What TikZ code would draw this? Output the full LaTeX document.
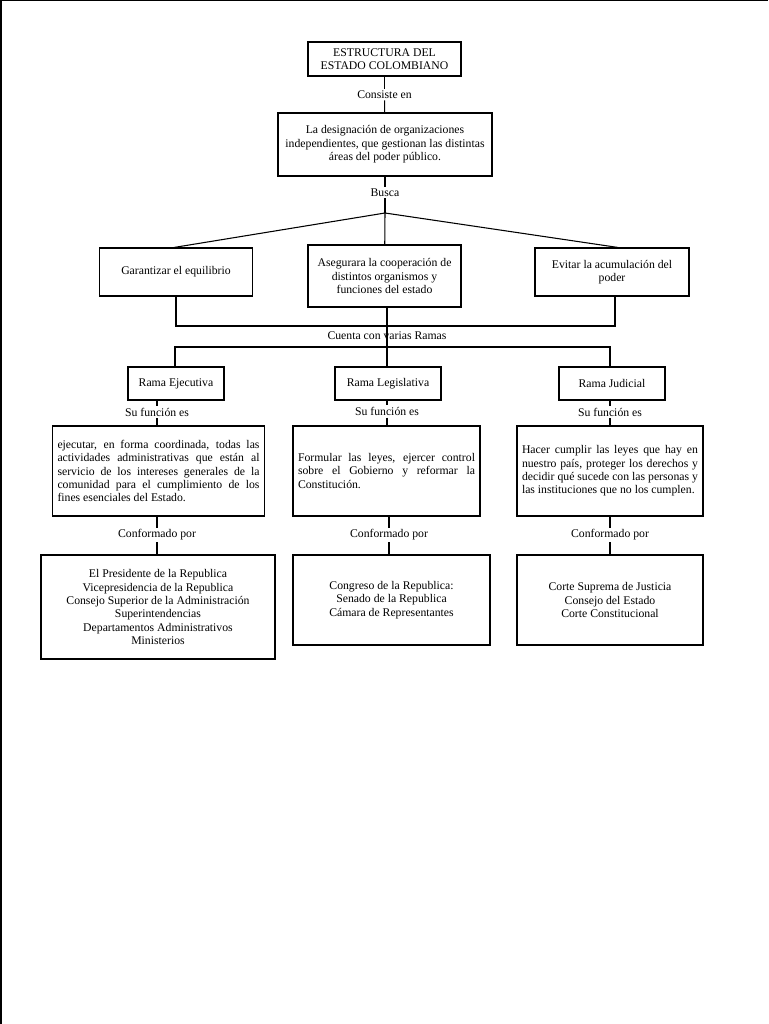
\documentclass[tikz,border=0pt]{standalone}
\usepackage{fontspec}
\setmainfont{Liberation Serif}
\hyphenpenalty=10000
\exhyphenpenalty=10000
\begin{document}
\begin{tikzpicture}[x=0.75pt,y=-0.75pt,line width=0.8pt,
    every node/.style={font=\fontsize{8.8}{10}\selectfont},
    caja/.style={draw,line width=0.8pt,align=center,inner sep=2pt},
    texto/.style={draw,line width=0.8pt,align=justify,inner xsep=3.75pt,minimum height=67.5pt},
    etiq/.style={inner sep=1pt}]
      \useasboundingbox (0,0) rectangle (768,1024);
      \draw[line width=2.25pt] (0,1024) -- (0,0) -- (768,0);
      \node[caja,minimum width=114.75pt,minimum height=25.5pt] (est) at (384.5,59)
        {ESTRUCTURA DEL\\ ESTADO COLOMBIANO};
      \node[etiq] (consiste) at (384.5,94.5) {Consiste en};
      \node[caja,minimum width=160.5pt,minimum height=47.25pt] (desig) at (385,144.5)
        {La designación de organizaciones\\ independientes, que gestionan las distintas\\ áreas del poder público.};
      \node[etiq] (busca) at (385,192.5) {Busca};
      \coordinate (vertice) at (385,213);
      \node[caja,minimum width=115pt,minimum height=36pt] (equil) at (176,272)
        {Garantizar el equilibrio};
      \node[caja,minimum width=114.75pt,minimum height=46.5pt] (coop) at (384.5,276)
        {Asegurara la cooperación de\\ distintos organismos y\\ funciones del estado};
      \node[caja,minimum width=115.5pt,minimum height=36pt] (acum) at (612,272)
        {Evitar la acumulación del\\ poder};
      \coordinate (union) at (387,326);
      \node[etiq] (cuenta) at (387,336) {Cuenta con varias Ramas};
      \coordinate (reparto) at (387,347);
      \node[caja,minimum width=72pt,minimum height=24.75pt] (ejec) at (176,383.5) {Rama Ejecutiva};
      \node[caja,minimum width=79.5pt,minimum height=24.75pt] (legis) at (388,383.5) {Rama Legislativa};
      \node[caja,minimum width=79.5pt,minimum height=24.75pt] (judic) at (612,383.5) {Rama Judicial};
      \node[etiq] (sfe1) at (157,412) {Su función es};
      \node[etiq] (sfe2) at (387,411.5) {Su función es};
      \node[etiq] (sfe3) at (610,412) {Su función es};
      \node[texto,text width=151.5pt,inner xsep=4pt] (fejec) at (158.5,471)
        {ejecutar, en forma coordinada, todas las\linebreak
         actividades administrativas que están al\linebreak
         servicio de los intereses generales de la\linebreak
         comunidad para el cumplimiento de los\linebreak
         fines esenciales del Estado.};
      \node[texto,text width=132.75pt] (flegis) at (386.5,471)
        {Formular las leyes, ejercer control\linebreak
         sobre el Gobierno y reformar la\linebreak
         Constitución.};
      \node[texto,text width=132pt] (fjudic) at (610,471)
        {Hacer cumplir las leyes que hay en\linebreak
         nuestro país, proteger los derechos y\linebreak
         decidir qué sucede con las personas y\linebreak
         las instituciones que no los cumplen.};
      \node[etiq] (conf1) at (157,535) {Conformado por};
      \node[etiq] (conf2) at (389,535) {Conformado por};
      \node[etiq] (conf3) at (610,535) {Conformado por};
      \node[caja,minimum width=175.5pt,minimum height=78pt] (cejec) at (158,607)
        {El Presidente de la Republica\\ Vicepresidencia de la Republica\\
         Consejo Superior de la Administración\\ Superintendencias\\
         Departamentos Administrativos\\ Ministerios};
      \node[caja,minimum width=147.75pt,minimum height=67.5pt] (clegis) at (391.5,600)
        {Congreso de la Republica:\\ Senado de la Republica\\ Cámara de Representantes};
      \node[caja,minimum width=139.5pt,minimum height=67.5pt] (cjudic) at (610,600)
        {Corte Suprema de Justicia\\ Consejo del Estado\\ Corte Constitucional};
      \begin{scope}[-]
        \draw (est) to (consiste);
        \draw (consiste) to (desig);
        \draw (desig) to (busca);
        \draw (busca) to (vertice);
        \draw (vertice) to ([xshift=-1.5pt]equil.north);
        \draw (vertice) to (coop);
        \draw (vertice) to ([xshift=4.5pt]acum.north);
        \draw (equil.south) |- (union) -| ([xshift=2.25pt]acum.south);
        \draw (coop.south -| cuenta) to (cuenta.center) to (legis.north -| cuenta);
        \draw ([xshift=-0.75pt]ejec.north) |- (reparto) -| ([xshift=-1.5pt]judic.north);
        \draw (ejec.south -| sfe1) to (sfe1);
        \draw (legis.south -| sfe2) to (sfe2);
        \draw (judic.south -| sfe3) to (sfe3);
        \draw (sfe1) to (sfe1 |- fejec.north);
        \draw (sfe2) to (sfe2 |- flegis.north);
        \draw (sfe3) to (sfe3 |- fjudic.north);
        \draw (fejec.south -| conf1) to (conf1);
        \draw (flegis.south -| conf2) to (conf2);
        \draw (fjudic.south -| conf3) to (conf3);
        \draw (conf1) to (conf1 |- cejec.north);
        \draw (conf2) to (conf2 |- clegis.north);
        \draw (conf3) to (conf3 |- cjudic.north);
      \end{scope}
    \end{tikzpicture}
\end{document}
